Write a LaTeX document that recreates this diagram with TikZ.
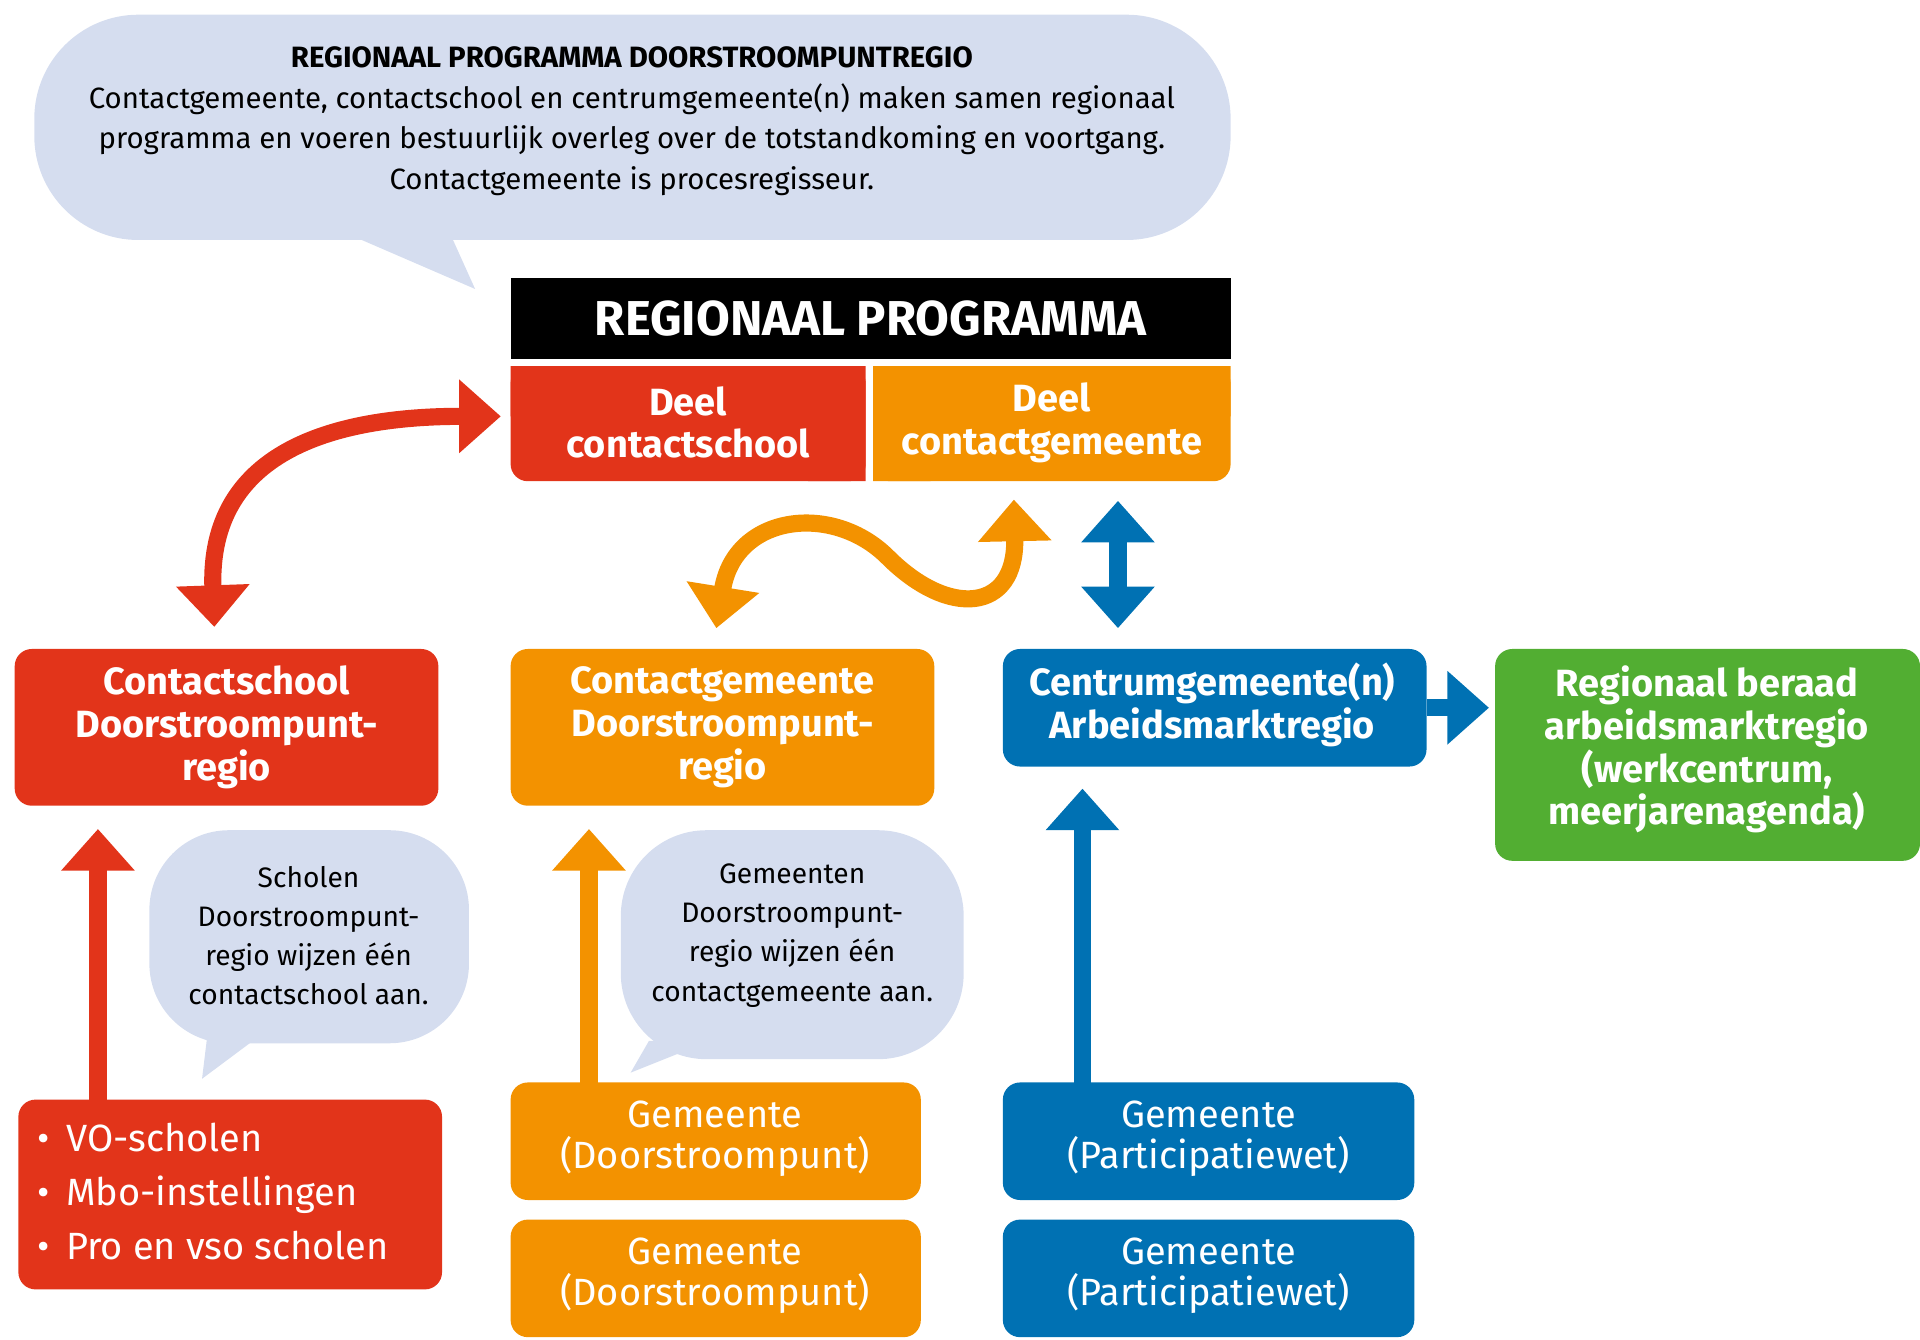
\documentclass[tikz,border=0pt]{standalone}
\usepackage{fontspec}
\setmainfont{Fira Sans}
\usetikzlibrary{arrows.meta}
\definecolor{cred}{HTML}{E2341A}
\definecolor{corange}{HTML}{F39200}
\definecolor{cblue}{HTML}{0071B3}
\definecolor{cgreen}{HTML}{52AE32}
\definecolor{cbub}{HTML}{D5DDEF}
\begin{document}
\begin{tikzpicture}[x=1pt,y=-1pt,
  box/.style={rounded corners=14pt},
  btxt/.style={text=white,font=\fontsize{31}{35}\selectfont\bfseries,align=center},
  rtxt/.style={text=white,font=\fontsize{31}{33}\selectfont,align=center},
  stxt/.style={font=\fontsize{23}{32}\selectfont,align=center},
  arr/.style={line width=14pt,-{Triangle[width=58pt,length=34pt]}},
  darr/.style={line width=14pt,{Triangle[width=58pt,length=34pt]}-{Triangle[width=58pt,length=34pt]}}]
\useasboundingbox (0,0) rectangle (1568,1094);
% top bubble
\fill[cbub,rounded corners=85pt] (28,12) rectangle (1005,196);
\fill[cbub] (270,185) -- (365,185) -- (388,236) -- cycle;
\node[font=\fontsize{24}{33}\selectfont,align=center] (bub) at (516,99) {\textbf{REGIONAAL PROGRAMMA DOORSTROOMPUNTREGIO}\\Contactgemeente, contactschool en centrumgemeente(n) maken samen regionaal\\programma en voeren bestuurlijk overleg over de totstandkoming en voortgang.\\Contactgemeente is procesregisseur.};
% programme
\fill[black] (417,227) rectangle (1005,293);
\node[text=white,font=\fontsize{40}{44}\selectfont\bfseries] (rp) at (711,260) {REGIONAAL PROGRAMMA};
\fill[cred,rounded corners=14pt] (417,299) -- (707,299) -- (707,393) -- (417,393) -- cycle;
\fill[cred] (417,299) rectangle (707,340) (660,299) rectangle (707,393);
\node[btxt] (dcs) at (562,345) {Deel\\contactschool};
\fill[corange,rounded corners=14pt] (713,299) rectangle (1005,393);
\fill[corange] (713,299) rectangle (1005,340) (713,299) rectangle (760,393);
\node[btxt] (dcg) at (859,345) {Deel\\contactgemeente};
% middle boxes
\fill[cred,box] (12,530) rectangle (358,658);
\node[btxt] (cs) at (185,594) {Contactschool\\Doorstroompunt-\\regio};
\fill[corange,box] (417,530) rectangle (763,658);
\node[btxt] (cg) at (590,594) {Contactgemeente\\Doorstroompunt-\\regio};
\fill[cblue,box] (819,530) rectangle (1165,626);
\node[btxt] (cm) at (990,576) {Centrumgemeente(n)\\Arbeidsmarktregio};
\fill[cgreen,box] (1221,530) rectangle (1568,703);
\node[btxt] (rb) at (1394,612) {Regionaal beraad\\arbeidsmarktregio\\(werkcentrum,\\meerjarenagenda)};
% arrows top
\coordinate (r1) at (175,512); \coordinate (r2) at (409,340);
\draw[darr,cred] (r1) .. controls (170,370) and (270,340) .. (r2);
\coordinate (o1) at (585,513); \coordinate (o2) at (828,408);
\draw[darr,corange] (o1) .. controls (600,420) and (680,410) .. (725,455) .. controls (775,505) and (830,500) .. (o2);
\coordinate (b1) at (913,409); \coordinate (b2) at (913,513);
\draw[darr,cblue] (b1) -- (b2);
\coordinate (bg) at (1216,578);
\draw[arr,cblue] (1165,578) -- (bg);
% bubbles small
\fill[cbub,rounded corners=65pt] (122,678) rectangle (383,852);
\fill[cbub] (170,840) -- (220,840) -- (165,881) -- cycle;
\node[stxt] (sb1) at (252,764) {Scholen\\Doorstroompunt-\\regio wijzen één\\contactschool aan.};
\fill[cbub,rounded corners=70pt] (507,678) rectangle (787,865);
\fill[cbub] (530,850) -- (580,850) -- (515,876) -- cycle;
\node[stxt] (sb2) at (647,764) {Gemeenten\\Doorstroompunt-\\regio wijzen één\\contactgemeente aan.};
% bottom boxes
\fill[cred,box] (15,898) rectangle (361,1053);
\node[text=white,font=\fontsize{31}{44}\selectfont,align=left,anchor=west] (vo) at (27,973) {•\, VO-scholen\\•\, Mbo-instellingen\\•\, Pro en vso scholen};
\fill[corange,box] (417,884) rectangle (752,980);
\node[rtxt] (g1) at (584,930) {Gemeente\\(Doorstroompunt)};
\fill[corange,box] (417,996) rectangle (752,1092);
\node[rtxt] (g2) at (584,1042) {Gemeente\\(Doorstroompunt)};
\fill[cblue,box] (819,884) rectangle (1155,980);
\node[rtxt] (p1) at (987,930) {Gemeente\\(Participatiewet)};
\fill[cblue,box] (819,996) rectangle (1155,1092);
\node[rtxt] (p2) at (987,1042) {Gemeente\\(Participatiewet)};
% up arrows
\coordinate (u1) at (80,677); \draw[arr,cred] (80,899) -- (u1);
\coordinate (u2) at (481,677); \draw[arr,corange] (481,885) -- (u2);
\coordinate (u3) at (884,644); \draw[arr,cblue] (884,885) -- (u3);
\end{tikzpicture}
\end{document}
